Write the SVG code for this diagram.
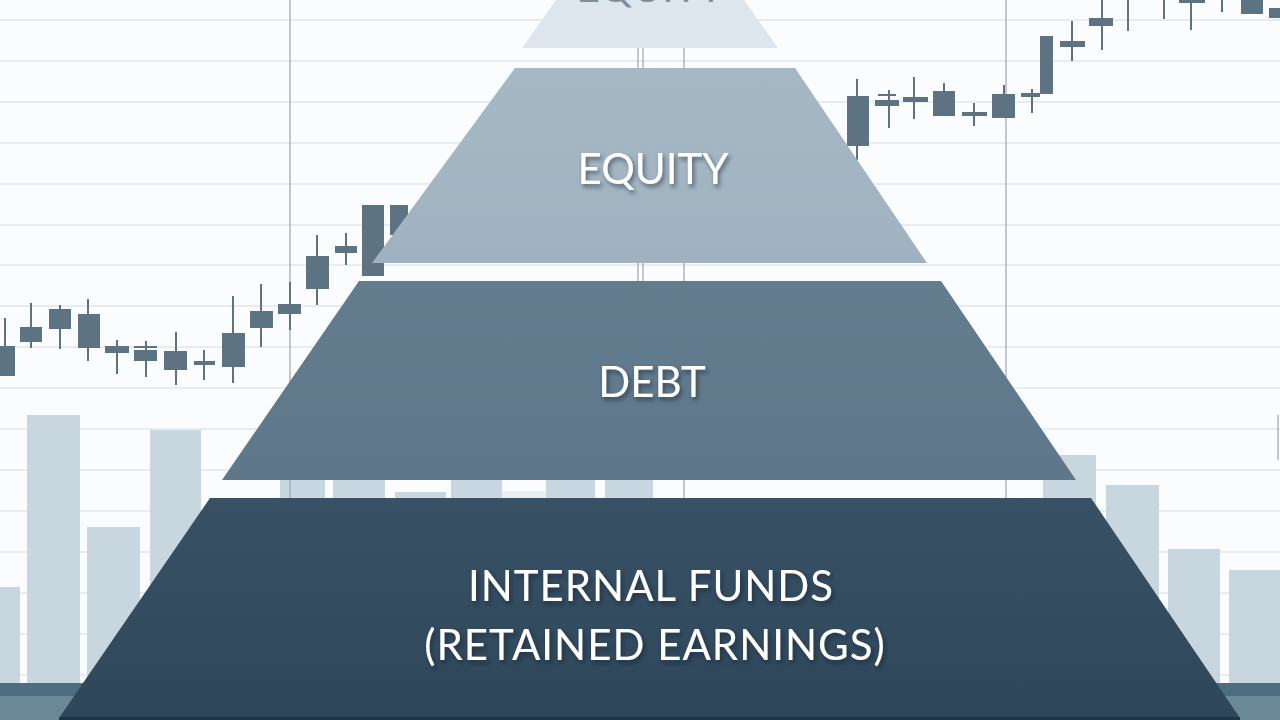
<svg xmlns="http://www.w3.org/2000/svg" width="1280" height="720" viewBox="0 0 1280 720">
  <style>
    .grid { stroke: #e2e7eb; stroke-width: 1.5; }
    .vgrid { stroke: #9aa6ae; stroke-width: 1.2; }
    .bar { fill: #c8d6e0; }
    .wick { stroke: #5d7382; stroke-width: 2; }
    .body { fill: #5d7382; }
    .label { font-family: Lato, "Open Sans", sans-serif; font-size: 42px; fill: #ffffff; text-anchor: middle; letter-spacing: 1px; filter: url(#shadow); }
    .tight { letter-spacing: 0px; }
  </style>
  <defs>
    <filter id="shadow" x="-10%" y="-30%" width="120%" height="160%">
      <feDropShadow dx="2" dy="3" stdDeviation="2" flood-color="#14222d" flood-opacity="0.55"/>
    </filter>
    <linearGradient id="g4" x1="0" y1="0" x2="0" y2="1">
      <stop offset="0" stop-color="#385165"/>
      <stop offset="1" stop-color="#2f475a"/>
    </linearGradient>
    <linearGradient id="g3" x1="0" y1="0" x2="0" y2="1">
      <stop offset="0" stop-color="#637c8e"/>
      <stop offset="1" stop-color="#5e778a"/>
    </linearGradient>
    <linearGradient id="g2" x1="0" y1="0" x2="0" y2="1">
      <stop offset="0" stop-color="#a6b8c4"/>
      <stop offset="1" stop-color="#a0b2bf"/>
    </linearGradient>
  </defs>

  <!-- background -->
  <rect x="0" y="0" width="1280" height="720" fill="#fbfcfd"/>
  <g id="grid">
    <line class="grid" x1="0" y1="20" x2="1280" y2="20"/>
    <line class="grid" x1="0" y1="61" x2="1280" y2="61"/>
    <line class="grid" x1="0" y1="102" x2="1280" y2="102"/>
    <line class="grid" x1="0" y1="143" x2="1280" y2="143"/>
    <line class="grid" x1="0" y1="184" x2="1280" y2="184"/>
    <line class="grid" x1="0" y1="225" x2="1280" y2="225"/>
    <line class="grid" x1="0" y1="265" x2="1280" y2="265"/>
    <line class="grid" x1="0" y1="306" x2="1280" y2="306"/>
    <line class="grid" x1="0" y1="347" x2="1280" y2="347"/>
    <line class="grid" x1="0" y1="388" x2="1280" y2="388"/>
    <line class="grid" x1="0" y1="429" x2="1280" y2="429"/>
    <line class="grid" x1="0" y1="470" x2="1280" y2="470"/>
    <line class="grid" x1="0" y1="511" x2="1280" y2="511"/>
    <line class="grid" x1="0" y1="552" x2="1280" y2="552"/>
    <line class="grid" x1="0" y1="593" x2="1280" y2="593"/>
    <line class="grid" x1="0" y1="634" x2="1280" y2="634"/>
    <line class="grid" x1="0" y1="675" x2="1280" y2="675"/>
  </g>

  <!-- volume bars -->
  <g id="bars">
    <rect class="bar" x="0" y="587" width="20" height="96"/>
    <rect class="bar" x="27" y="415" width="53" height="268"/>
    <rect class="bar" x="87" y="527" width="53" height="156"/>
    <rect class="bar" x="150" y="430" width="51" height="253"/>
    <rect class="bar" x="280" y="470" width="45" height="213"/>
    <rect class="bar" x="333" y="470" width="52" height="213"/>
    <rect class="bar" x="395" y="492" width="51" height="191"/>
    <rect class="bar" x="451" y="470" width="51" height="213"/>
    <rect x="502" y="491" width="44" height="192" fill="#e9eff3"/>
    <rect class="bar" x="546" y="470" width="49" height="213"/>
    <rect class="bar" x="605" y="470" width="48" height="213"/>
    <rect class="bar" x="1043" y="455" width="53" height="228"/>
    <rect class="bar" x="1106" y="485" width="53" height="198"/>
    <rect class="bar" x="1168" y="549" width="52" height="134"/>
    <rect class="bar" x="1229" y="570" width="51" height="113"/>
  </g>

  <!-- bottom band -->
  <rect x="0" y="683" width="1280" height="37" fill="#6b8899"/>
  <rect x="0" y="683" width="1280" height="13" fill="#4f6d80"/>

  <!-- vertical grid -->
  <g id="vlines">
    <line class="vgrid" x1="290" y1="0" x2="290" y2="498"/>
    <line class="vgrid" x1="1006" y1="0" x2="1006" y2="498"/>
    <line class="vgrid" x1="638" y1="0" x2="638" y2="282"/>
    <line class="vgrid" x1="643" y1="0" x2="643" y2="282"/>
    <line class="vgrid" x1="684" y1="0" x2="684" y2="498"/>
    <line class="vgrid" x1="1278" y1="415" x2="1278" y2="460"/>
  </g>

  <!-- candlesticks -->
  <g id="candles">
    <line class="wick" x1="5" y1="318" x2="5" y2="376"/><rect class="body" x="0" y="346" width="15" height="30"/>
    <line class="wick" x1="31" y1="303" x2="31" y2="348"/><rect class="body" x="20" y="327" width="22" height="15"/>
    <line class="wick" x1="60" y1="305" x2="60" y2="349"/><rect class="body" x="49" y="309" width="22" height="20"/>
    <line class="wick" x1="88" y1="299" x2="88" y2="361"/><rect class="body" x="78" y="314" width="22" height="34"/>
    <line class="wick" x1="117" y1="340" x2="117" y2="374"/><rect class="body" x="105" y="346" width="24" height="7"/>
    <line class="wick" x1="146" y1="341" x2="146" y2="377"/><rect class="body" x="134" y="350" width="23" height="11"/><line class="wick" x1="134" y1="347" x2="157" y2="347" stroke-width="1"/>
    <line class="wick" x1="176" y1="332" x2="176" y2="385"/><rect class="body" x="164" y="351" width="23" height="19"/>
    <line class="wick" x1="204" y1="350" x2="204" y2="380"/><rect class="body" x="194" y="361" width="21" height="4"/>
    <line class="wick" x1="233" y1="296" x2="233" y2="383"/><rect class="body" x="222" y="333" width="23" height="34"/>
    <line class="wick" x1="261" y1="284" x2="261" y2="347"/><rect class="body" x="250" y="311" width="23" height="17"/>
    <line class="wick" x1="290" y1="282" x2="290" y2="330"/><rect class="body" x="278" y="304" width="23" height="10"/>
    <line class="wick" x1="317" y1="235" x2="317" y2="305"/><rect class="body" x="306" y="256" width="23" height="33"/>
    <line class="wick" x1="346" y1="233" x2="346" y2="265"/><rect class="body" x="335" y="246" width="22" height="7"/>
    <rect class="body" x="362" y="205" width="22" height="71"/>
    <rect class="body" x="390" y="205" width="18" height="30"/>

    <line class="wick" x1="857" y1="79" x2="857" y2="160"/><rect class="body" x="847" y="96" width="22" height="50"/>
    <line class="wick" x1="889" y1="90" x2="889" y2="128"/><rect class="body" x="875" y="100" width="24" height="6"/><line class="wick" x1="878" y1="95" x2="896" y2="95" stroke-width="1.5"/>
    <line class="wick" x1="914" y1="77" x2="914" y2="119"/><rect class="body" x="903" y="97" width="25" height="5"/>
    <line class="wick" x1="944" y1="83" x2="944" y2="116"/><rect class="body" x="933" y="91" width="22" height="25"/>
    <line class="wick" x1="974" y1="103" x2="974" y2="126"/><rect class="body" x="962" y="112" width="25" height="4"/>
    <line class="wick" x1="1004" y1="85" x2="1004" y2="118"/><rect class="body" x="992" y="94" width="23" height="24"/>
    <line class="wick" x1="1032" y1="89" x2="1032" y2="113"/><rect class="body" x="1021" y="93" width="19" height="4"/>
    <rect class="body" x="1040" y="36" width="13" height="58"/>
    <line class="wick" x1="1072" y1="21" x2="1072" y2="61"/><rect class="body" x="1060" y="41" width="25" height="6"/>
    <line class="wick" x1="1102" y1="0" x2="1102" y2="50"/><rect class="body" x="1089" y="18" width="24" height="8"/>
    <line class="wick" x1="1128" y1="0" x2="1128" y2="31"/>
    <line class="wick" x1="1164" y1="0" x2="1164" y2="19"/>
    <line class="wick" x1="1191" y1="0" x2="1191" y2="30"/><rect class="body" x="1179" y="0" width="26" height="3"/>
    <line class="wick" x1="1222" y1="0" x2="1222" y2="12"/>
    <rect class="body" x="1241" y="0" width="22" height="14"/>
    <rect class="body" x="1269" y="8" width="11" height="10"/>
  </g>

  <!-- pyramid tiers -->
  <g id="tier-top">
    <polygon points="556,0 744,0 778,48 522,48" fill="#dde6ec"/>
    <text x="650" y="2" font-family="Lato, 'Open Sans', sans-serif" font-size="41" fill="#7f8f9a" text-anchor="middle">EQUITY</text>
  </g>
  <g id="tier-equity">
    <polygon points="515,68 795,68 927,263 372,263" fill="url(#g2)"/>
    <text class="label tight" x="653" y="184">EQUITY</text>
  </g>
  <g id="tier-debt">
    <polygon points="359,281 941,281 1076,480 222,480" fill="url(#g3)"/>
    <text class="label tight" x="652" y="397">DEBT</text>
  </g>
  <g id="tier-internal">
    <polygon points="210,498 1091,498 1240,718 59,718" fill="url(#g4)"/>
    <rect x="59" y="717" width="1181" height="3" fill="#1f3446"/>
    <text class="label" x="651" y="601">INTERNAL FUNDS</text>
    <text class="label" x="655" y="660">(RETAINED EARNINGS)</text>
  </g>

  <g id="connectors"></g>
</svg>
